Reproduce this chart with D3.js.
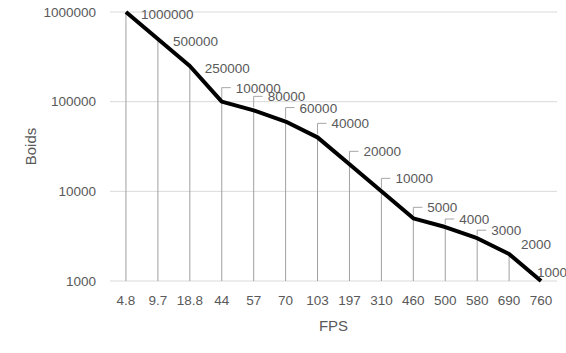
<!DOCTYPE html>
<html>
<head>
<meta charset="utf-8">
<script src="https://cdn.jsdelivr.net/npm/d3@7"></script>
<style>
  body { margin: 0; background: #fff; }
  text { font-family: "Liberation Sans", Arial, sans-serif; fill: #595959; }
</style>
</head>
<body>
<div class="chart"></div>
<script>
// Data
const fps = ["4.8", "9.7", "18.8", "44", "57", "70", "103", "197", "310", "460", "500", "580", "690", "760"];
const boids = [1000000, 500000, 250000, 100000, 80000, 60000, 40000, 20000, 10000, 5000, 4000, 3000, 2000, 1000];
const yTicks = [1000, 10000, 100000, 1000000];

const width = 566, height = 353;
const plot = { left: 110, right: 557, top: 12, bottom: 281 };

const svg = d3.select(".chart").append("svg")
  .attr("width", width)
  .attr("height", height);

// scales
const x = d3.scaleBand().domain(fps).range([plot.left, plot.right]);
const y = d3.scaleLog().domain([1000, 1000000]).range([plot.bottom, plot.top]);
const cx = (d) => x(d) + x.bandwidth() / 2;

// horizontal gridlines
svg.append("g")
  .selectAll("line")
  .data(yTicks)
  .join("line")
  .attr("x1", plot.left)
  .attr("x2", plot.right)
  .attr("y1", (d) => y(d))
  .attr("y2", (d) => y(d))
  .attr("stroke", "#d9d9d9")
  .attr("stroke-width", 1);

// y axis
const yAxis = svg.append("g")
  .attr("transform", `translate(${plot.left},0)`)
  .call(d3.axisLeft(y).tickValues(yTicks).tickFormat(d3.format("d")).tickSize(0).tickPadding(14));
yAxis.select(".domain").remove();
yAxis.selectAll("text")
  .style("font-family", '"Liberation Sans", Arial, sans-serif')
  .style("font-size", "13.5px")
  .attr("fill", "#595959");

// x axis
const xAxis = svg.append("g")
  .attr("transform", `translate(0,${plot.bottom})`)
  .call(d3.axisBottom(x).tickSize(0).tickPadding(14));
xAxis.select(".domain").remove();
xAxis.selectAll("text")
  .style("font-family", '"Liberation Sans", Arial, sans-serif')
  .style("font-size", "13.5px")
  .attr("fill", "#595959");

const points = fps.map((f, i) => ({ fps: f, boids: boids[i], i: i }));

// drop lines
svg.append("g")
  .selectAll("line")
  .data(points)
  .join("line")
  .attr("x1", (d) => cx(d.fps))
  .attr("x2", (d) => cx(d.fps))
  .attr("y1", (d) => y(d.boids))
  .attr("y2", plot.bottom)
  .attr("stroke", "#a0a0a0")
  .attr("stroke-width", 1);

// leader lines for labels lifted above the point
const lift = [0, 0, 0, 14, 14, 14, 14, 13, 13, 11, 8, 8, 0, 0];
svg.append("g")
  .selectAll("path")
  .data(points.filter((d) => lift[d.i] > 0))
  .join("path")
  .attr("d", (d) => {
    const px = cx(d.fps), py = y(d.boids);
    return `M${px},${py - 3}V${py - lift[d.i]}H${px + 9}`;
  })
  .attr("fill", "none")
  .attr("stroke", "#a6a6a6")
  .attr("stroke-width", 1);

// main line
const line = d3.line()
  .x((d) => cx(d.fps))
  .y((d) => y(d.boids));
svg.append("path")
  .datum(points)
  .attr("d", line)
  .attr("fill", "none")
  .attr("stroke", "#000")
  .attr("stroke-width", 4)
  .attr("stroke-linejoin", "round");

// data labels
svg.append("g")
  .selectAll("text")
  .data(points)
  .join("text")
  .attr("x", (d) => {
    const px = cx(d.fps);
    if (lift[d.i] > 0) return px + 14;
    if (d.i === points.length - 1) return px - 4;
    if (d.i === points.length - 2) return px + 12;
    return px + 15;
  })
  .attr("y", (d) => {
    const py = y(d.boids);
    if (lift[d.i] > 0) return py - lift[d.i] + 5;
    if (d.i === points.length - 1) return py - 4;
    if (d.i === points.length - 2) return py - 5;
    return py + 7;
  })
  .style("font-size", "13.5px")
  .text((d) => d.boids);

// axis titles
svg.append("text")
  .attr("transform", `translate(36,${(plot.top + plot.bottom) / 2}) rotate(-90)`)
  .attr("text-anchor", "middle")
  .style("font-size", "15px")
  .text("Boids");

svg.append("text")
  .attr("x", (plot.left + plot.right) / 2)
  .attr("y", 331)
  .attr("text-anchor", "middle")
  .style("font-size", "15px")
  .text("FPS");
</script>
</body>
</html>
